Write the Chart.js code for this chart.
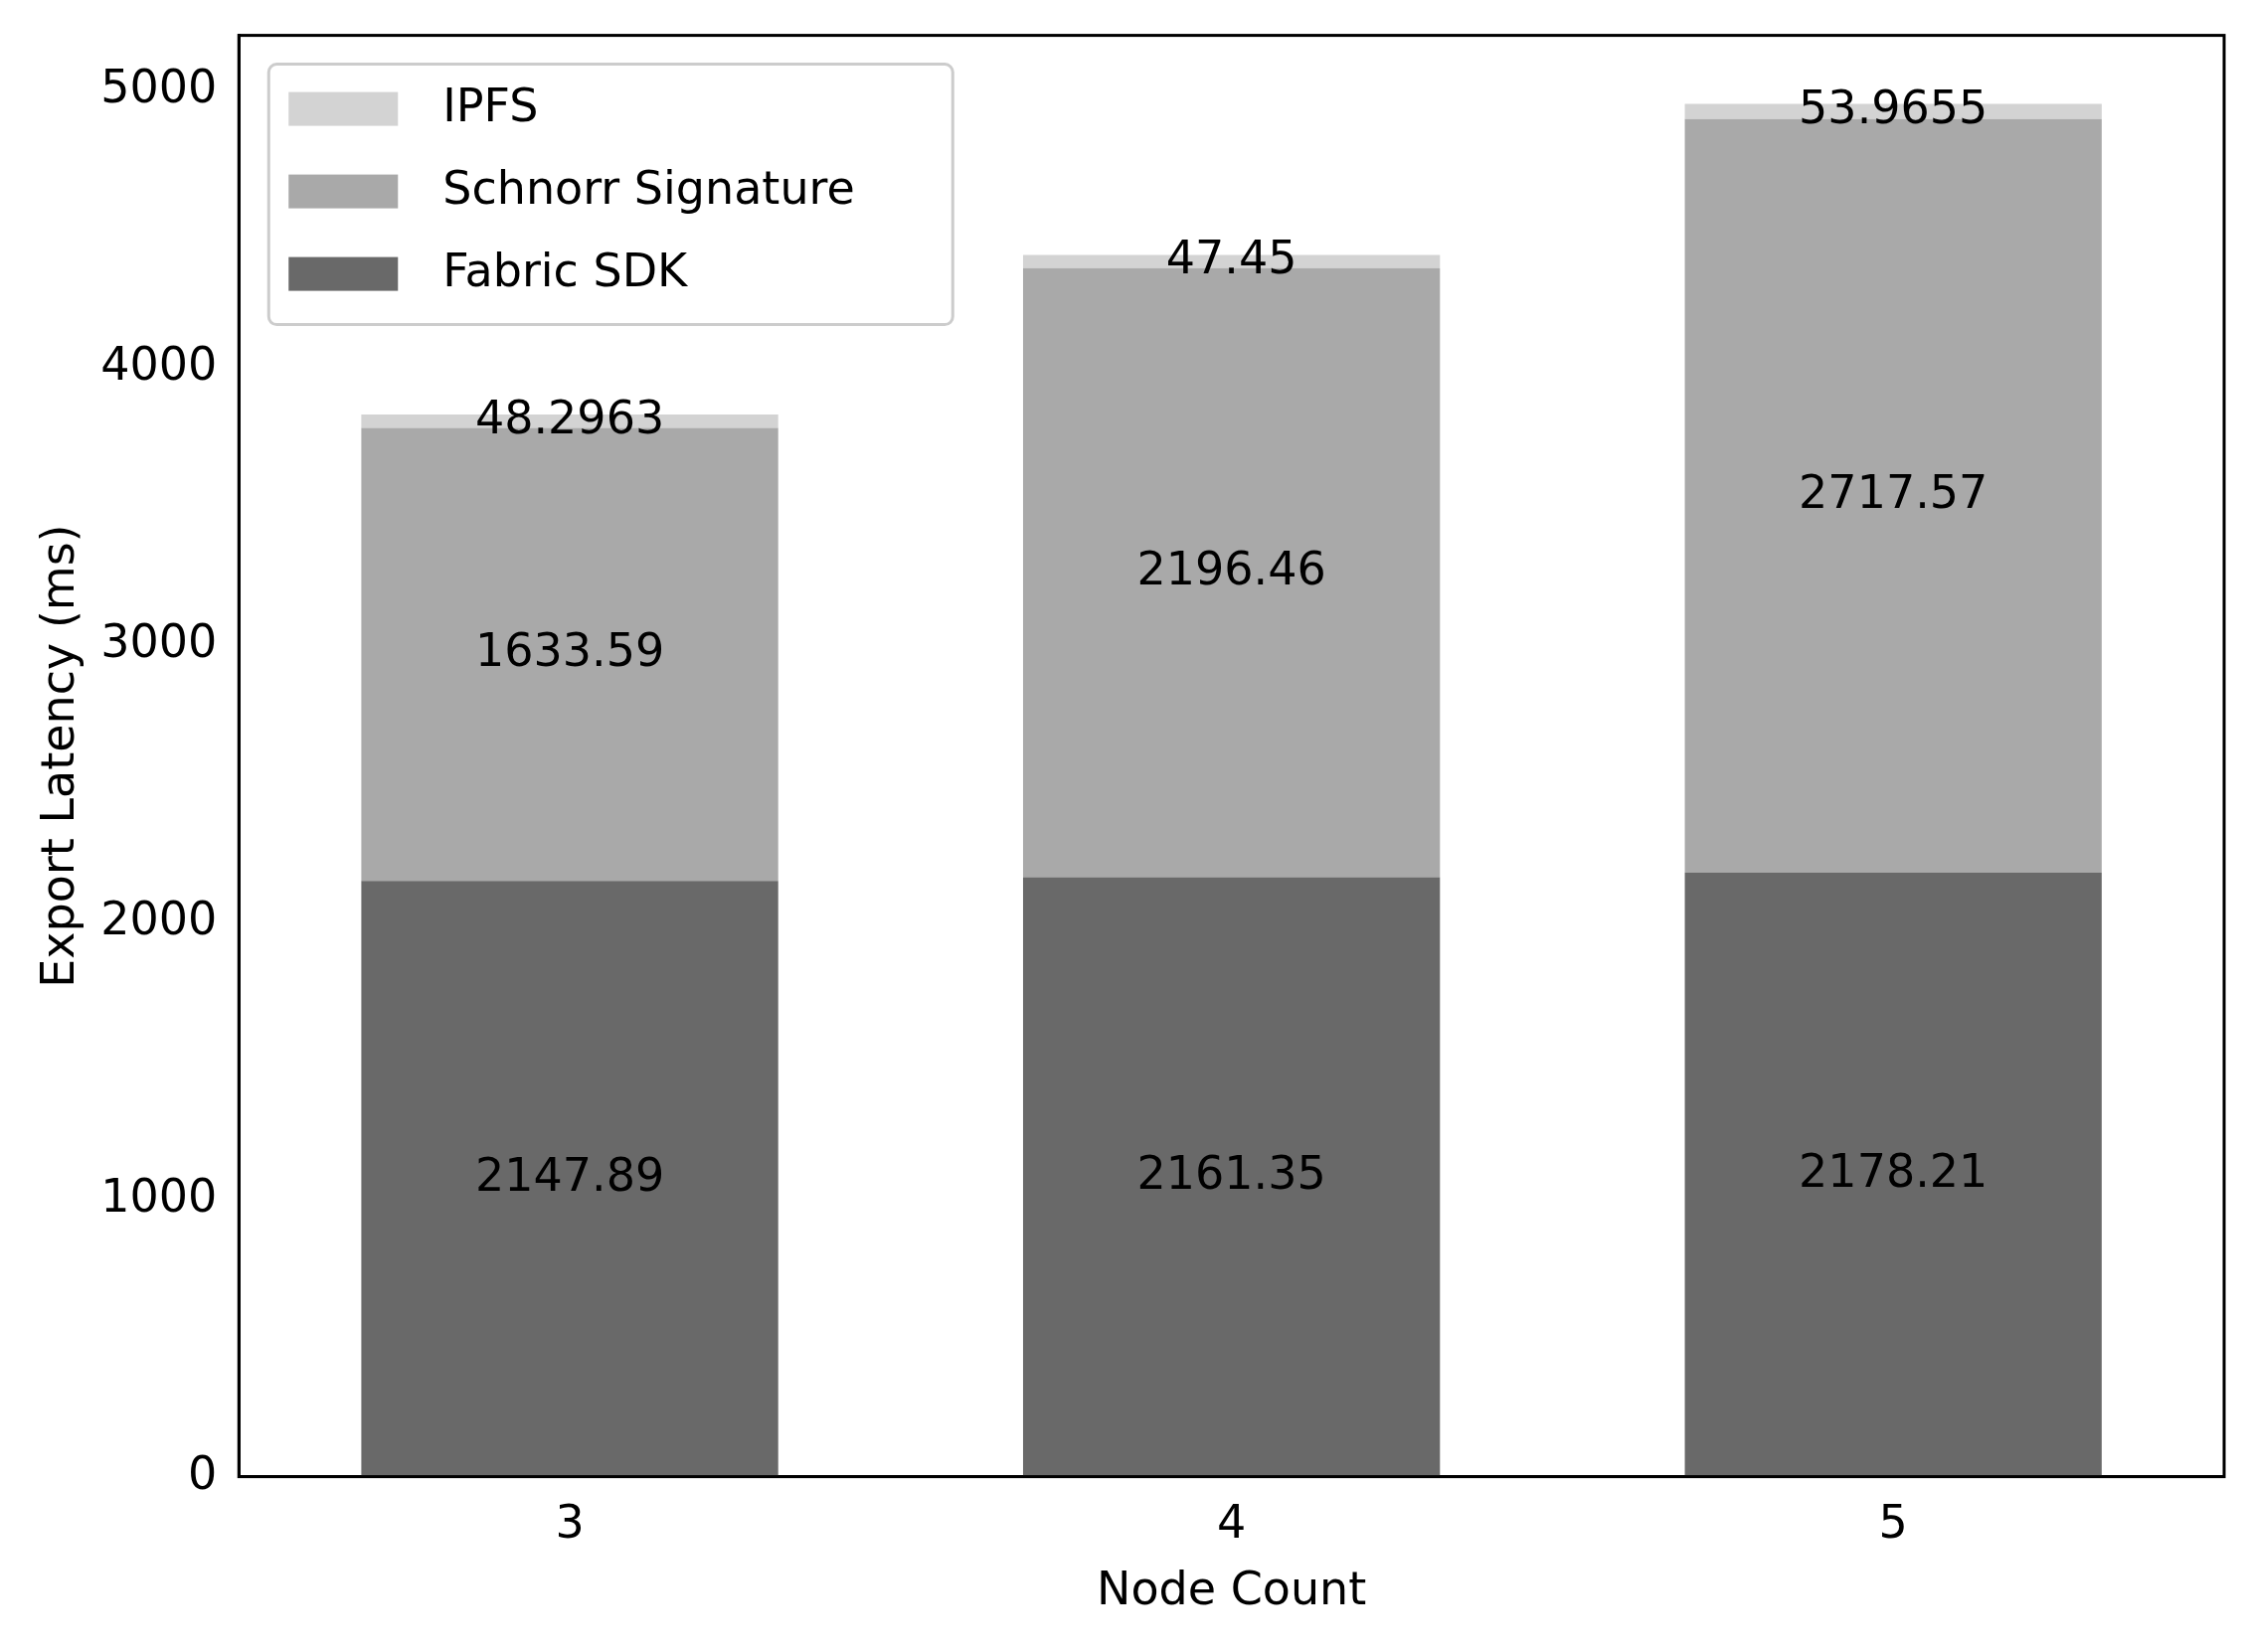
<!DOCTYPE html>
<html>
<head>
<meta charset="utf-8">
<script src="https://cdn.jsdelivr.net/npm/chart.js@4"></script>
<style>
  body { margin: 0; background: #fff; }
</style>
</head>
<body>
<canvas id="c" width="2259" height="1662"></canvas>
<script>
// data
const nodeCounts = ["3", "4", "5"];
const fabricSdk = [2147.89, 2161.35, 2178.21];
const schnorr = [1633.59, 2196.46, 2717.57];
const ipfs = [48.2963, 47.45, 53.9655];
const yTicks = [0, 1000, 2000, 3000, 4000, 5000];

const FONT = "'DejaVu Sans', sans-serif";

// labels in the middle of every segment, black frame, matplotlib-like legend
const segLabels = {
    id: "segLabels",
    afterDatasetsDraw(chart) {
        const ctx = chart.ctx;
        ctx.save();
        ctx.fillStyle = "#000";
        ctx.font = "46px " + FONT;
        ctx.textAlign = "center";
        ctx.textBaseline = "middle";
        chart.data.datasets.forEach((ds, i) => {
            chart.getDatasetMeta(i).data.forEach((bar, j) => {
                const y = (bar.y + bar.base) / 2;
                ctx.fillText(String(ds.data[j]), bar.x, y);
            });
        });
        const a = chart.chartArea;
        ctx.strokeStyle = "#000";
        ctx.lineWidth = 3;
        ctx.strokeRect(a.left, a.top, a.right - a.left, a.bottom - a.top);

        // legend
        const lx = a.left + 30, ly = a.top + 29, lw = 688, lh = 262;
        ctx.fillStyle = "rgba(255,255,255,0.8)";
        ctx.strokeStyle = "#cccccc";
        ctx.lineWidth = 3;
        ctx.beginPath();
        ctx.roundRect(lx, ly, lw, lh, 8);
        ctx.fill();
        ctx.stroke();
        const items = chart.data.datasets.slice().reverse();
        ctx.textAlign = "left";
        items.forEach((ds, k) => {
            const cy = ly + 45 + k * 83;
            ctx.fillStyle = ds.backgroundColor;
            ctx.fillRect(lx + 20, cy - 17, 110, 34);
            ctx.fillStyle = "#000";
            ctx.fillText(ds.label, lx + 175, cy);
        });
        ctx.restore();
    }
};

new Chart(document.getElementById("c"), {
    type: "bar",
    data: {
        labels: nodeCounts,
        datasets: [
            { label: "Fabric SDK", data: fabricSdk, backgroundColor: "#696969" },
            { label: "Schnorr Signature", data: schnorr, backgroundColor: "#a9a9a9" },
            { label: "IPFS", data: ipfs, backgroundColor: "#d3d3d3" }
        ]
    },
    options: {
        responsive: false,
        animation: false,
        devicePixelRatio: 1,
        layout: { padding: { top: 22, right: 22, left: 30, bottom: 28 } },
        datasets: { bar: { barPercentage: 0.63, categoryPercentage: 1.0 } },
        plugins: {
            legend: { display: false },
            tooltip: { enabled: false }
        },
        scales: {
            x: {
                stacked: true,
                grid: { display: false, drawTicks: true, tickLength: 14, tickColor: "#000" },
                border: { color: "#000", width: 3 },
                ticks: { color: "#000", font: { size: 46, family: FONT }, padding: 8 },
                title: { display: true, text: "Node Count", color: "#000", font: { size: 46, family: FONT } }
            },
            y: {
                stacked: true,
                min: 0,
                max: 5197,
                afterBuildTicks(axis) { axis.ticks = yTicks.map(v => ({ value: v })); },
                grid: { display: false, drawTicks: true, tickLength: 14, tickColor: "#000" },
                border: { color: "#000", width: 3 },
                ticks: { color: "#000", font: { size: 46, family: FONT }, padding: 8, callback: v => String(v) },
                title: { display: true, text: "Export Latency (ms)", color: "#000", font: { size: 46, family: FONT } }
            }
        }
    },
    plugins: [segLabels]
});
</script>
</body>
</html>
